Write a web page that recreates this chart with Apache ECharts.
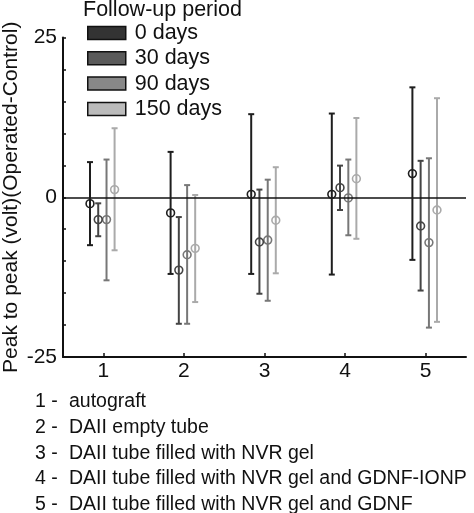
<!DOCTYPE html>
<html>
<head>
<meta charset="utf-8">
<script src="https://cdn.jsdelivr.net/npm/echarts@6/dist/echarts.min.js"></script>
<style>html,body{margin:0;padding:0;background:#fff}#c{width:474px;height:513px}</style>
</head>
<body>
<div id="c"></div>
<script>
var categories = [1, 2, 3, 4, 5];
var periods = ['0 days', '30 days', '90 days', '150 days'];
var treatmentNums = ['1 -', '2 -', '3 -', '4 -', '5 -'];
var treatments = [
  'autograft',
  'DAII empty tube',
  'DAII tube filled with NVR gel',
  'DAII tube filled with NVR gel and GDNF-IONP',
  'DAII tube filled with NVR gel and GDNF'
];
var yTickLabels = [-25, 0, 25];

var mean0 = [-1.0, -2.45, 0.45, 0.45, 3.7];
var low0 = [-7.5, -12.0, -12.0, -12.1, -9.8];
var high0 = [5.5, 7.1, 13.0, 13.1, 17.2];

var mean30 = [-3.5, -11.4, -7.0, 1.5, -4.5];
var low30 = [-6.1, -19.8, -15.1, -2.0, -14.6];
var high30 = [-0.95, -3.1, 1.2, 4.95, 5.7];

var mean90 = [-3.5, -9.0, -6.7, -0.1, -7.1];
var low90 = [-13.0, -19.8, -16.2, -5.95, -20.4];
var high90 = [5.9, 1.9, 2.75, 5.9, 6.1];

var mean150 = [1.2, -8.0, -3.6, 2.9, -2.0];
var low150 = [-8.3, -16.4, -11.9, -6.5, -19.5];
var high150 = [10.8, 0.35, 4.7, 12.4, 15.5];

var means = [mean0, mean30, mean90, mean150];
var lows = [low0, low30, low90, low150];
var highs = [high0, high30, high90, high150];

var lineColors = ['#1e1e1e', '#444444', '#777777', '#aaaaaa'];
var legendFills = ['#333333', '#5a5a5a', '#888888', '#bbbbbb'];
var offsets = [-0.165, -0.063, 0.04, 0.14];
var FONT = 'Arial, "Liberation Sans", sans-serif';

var chart = echarts.init(document.getElementById('c'));

var series = periods.map(function (name, si) {
  var data = categories.map(function (c, i) {
    return [c, means[si][i], lows[si][i], highs[si][i]];
  });
  var col = lineColors[si];
  return {
    name: name,
    type: 'custom',
    z: 5 - si,
    itemStyle: { color: legendFills[si] },
    data: data,
    encode: { x: 0, y: [1, 2, 3] },
    renderItem: function (params, api) {
      var x = api.value(0) + offsets[si];
      var m = api.coord([x, api.value(1)]);
      var lo = api.coord([x, api.value(2)]);
      var hi = api.coord([x, api.value(3)]);
      var hw = 3;
      return {
        type: 'group',
        children: [
          { type: 'line', shape: { x1: m[0], y1: hi[1], x2: m[0], y2: lo[1] }, style: { stroke: col, lineWidth: 2 } },
          { type: 'line', shape: { x1: m[0] - hw, y1: hi[1], x2: m[0] + hw, y2: hi[1] }, style: { stroke: col, lineWidth: 2 } },
          { type: 'line', shape: { x1: m[0] - hw, y1: lo[1], x2: m[0] + hw, y2: lo[1] }, style: { stroke: col, lineWidth: 2 } },
          { type: 'circle', shape: { cx: m[0], cy: m[1], r: 3.9 }, style: { fill: 'none', stroke: col, lineWidth: 1.6 } }
        ]
      };
    }
  };
});

// zero reference line
series.push({
  type: 'line',
  data: [],
  silent: true,
  markLine: {
    symbol: ['none', 'none'],
    silent: true,
    label: { show: false },
    lineStyle: { color: '#111', width: 1.6, type: 'solid' },
    data: [{ yAxis: 0 }]
  }
});

var graphics = [{
  type: 'text',
  left: 83,
  top: -1,
  style: { text: 'Follow-up period', font: '21.5px ' + FONT, fill: '#111' }
}];
treatments.forEach(function (t, i) {
  graphics.push({
    type: 'text', left: 35, top: 392 + i * 25.6,
    style: { text: treatmentNums[i], font: '19.5px ' + FONT, fill: '#111' }
  });
  graphics.push({
    type: 'text', left: 69, top: 392 + i * 25.6,
    style: { text: t, font: '19.5px ' + FONT, fill: '#111' }
  });
});

chart.setOption({
  animation: false,
  backgroundColor: '#fff',
  grid: { left: 63, right: 8, top: 37.5, bottom: 156, containLabel: false, outerBoundsMode: 'none' },
  legend: {
    orient: 'vertical',
    left: 82,
    top: 17,
    itemWidth: 38,
    itemHeight: 13,
    itemGap: 3.3,
    icon: 'rect',
    selectedMode: false,
    textStyle: { fontFamily: FONT, fontSize: 21.5, lineHeight: 21, color: '#111', padding: [0, 0, 0, 4] },
    data: periods.map(function (p, i) {
      return { name: p, itemStyle: { color: legendFills[i], borderColor: '#111', borderWidth: 1.5 } };
    })
  },
  xAxis: {
    type: 'value',
    min: 0.5,
    max: 5.5,
    interval: 0.5,
    splitLine: { show: false },
    axisLine: { onZero: false, lineStyle: { color: '#111', width: 2 } },
    axisTick: { inside: true, length: 4, customValues: categories, lineStyle: { color: '#111', width: 1.5 } },
    axisLabel: { customValues: categories, fontFamily: FONT, fontSize: 21, color: '#111', margin: 4 }
  },
  yAxis: {
    type: 'value',
    min: -25,
    max: 25,
    interval: 5,
    name: 'Peak to peak (volt)(Operated-Control)',
    nameLocation: 'middle',
    nameGap: 41,
    nameRotate: 90,
    nameMoveOverlap: false,
    nameTextStyle: { fontFamily: FONT, fontSize: 21, color: '#111' },
    splitLine: { show: false },
    axisLine: { show: true, lineStyle: { color: '#111', width: 2 } },
    axisTick: { show: true, inside: true, length: 3, lineStyle: { color: '#111', width: 1.5 } },
    axisLabel: {
      fontFamily: FONT, fontSize: 21, color: '#111', margin: 6,
      formatter: function (v) { return yTickLabels.indexOf(v) >= 0 ? String(v) : ''; }
    }
  },
  graphic: graphics,
  series: series
});
</script>
</body>
</html>
